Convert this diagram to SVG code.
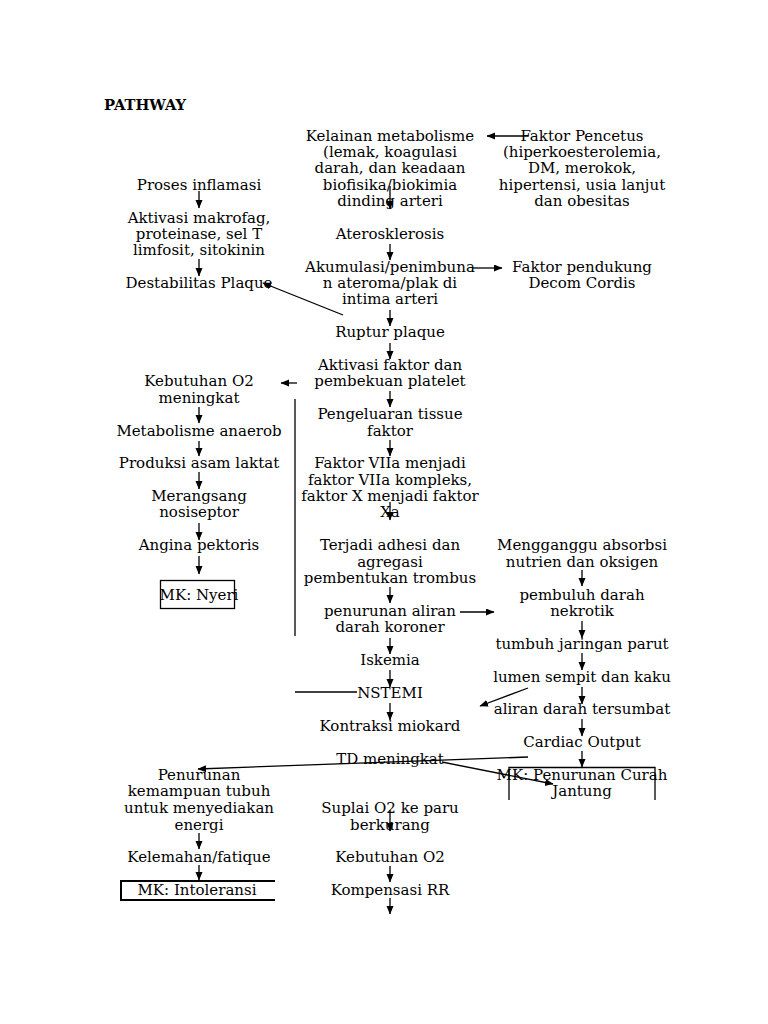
<svg xmlns="http://www.w3.org/2000/svg" width="768" height="1024" viewBox="0 0 768 1024">
<style>
text{font-family:"DejaVu Serif","Liberation Serif",serif;font-size:15px;fill:#000;text-anchor:middle}
.title{font-weight:bold;text-anchor:start;font-size:14.7px}
.c line,.c path,.c polyline{stroke:#000;stroke-width:1.3;fill:none}
.a{marker-end:url(#ah)}
.box{fill:none;stroke:#000;stroke-width:1.3}
.thick{stroke:#000;stroke-width:2;fill:none}
</style>
<defs>
<marker id="ah" markerUnits="userSpaceOnUse" markerWidth="9" markerHeight="8" refX="8" refY="3.5" orient="auto">
<path d="M0,0 L8.5,3.5 L0,7 z" fill="#000"/>
</marker>
</defs>
<rect width="768" height="1024" fill="#fff"/>
<text class="title" x="104" y="110">PATHWAY</text>

<g id="n-kelainan"><text x="390" y="141">Kelainan metabolisme</text><text x="390" y="157">(lemak, koagulasi</text><text x="390" y="173">darah, dan keadaan</text><text x="390" y="190">biofisika/biokimia</text><text x="390" y="206">dinding arteri</text></g>
<g id="n-pencetus"><text x="582" y="141">Faktor Pencetus</text><text x="582" y="157">(hiperkoesterolemia,</text><text x="582" y="173">DM, merokok,</text><text x="582" y="190">hipertensi, usia lanjut</text><text x="582" y="206">dan obesitas</text></g>
<g id="n-inflamasi"><text x="199" y="190">Proses inflamasi</text></g>
<g id="n-makrofag"><text x="199" y="223">Aktivasi makrofag,</text><text x="199" y="239">proteinase, sel T</text><text x="199" y="255">limfosit, sitokinin</text></g>
<g id="n-destab"><text x="199" y="288">Destabilitas Plaque</text></g>
<g id="n-ateros"><text x="390" y="239">Aterosklerosis</text></g>
<g id="n-akumulasi"><text x="390" y="272">Akumulasi/penimbuna</text><text x="390" y="288">n ateroma/plak di</text><text x="390" y="304">intima arteri</text></g>
<g id="n-pendukung"><text x="582" y="272">Faktor pendukung</text><text x="582" y="288">Decom Cordis</text></g>
<g id="n-ruptur"><text x="390" y="337">Ruptur plaque</text></g>
<g id="n-aktivasi"><text x="390" y="370">Aktivasi faktor dan</text><text x="390" y="386">pembekuan platelet</text></g>
<g id="n-kebutuhan1"><text x="199" y="386">Kebutuhan O2</text><text x="199" y="403">meningkat</text></g>
<g id="n-pengeluaran"><text x="390" y="419">Pengeluaran tissue</text><text x="390" y="436">faktor</text></g>
<g id="n-metab"><text x="199" y="436">Metabolisme anaerob</text></g>
<g id="n-faktor7"><text x="390" y="468">Faktor VIIa menjadi</text><text x="390" y="485">faktor VIIa kompleks,</text><text x="390" y="501">faktor X menjadi faktor</text><text x="390" y="517">Xa</text></g>
<g id="n-laktat"><text x="199" y="468">Produksi asam laktat</text></g>
<g id="n-nosiseptor"><text x="199" y="501">Merangsang</text><text x="199" y="517">nosiseptor</text></g>
<g id="n-angina"><text x="199" y="550">Angina pektoris</text></g>
<g id="n-nyeri"><rect class="box" x="160.5" y="580.5" width="74" height="28"/><text x="199" y="600">MK: Nyeri</text></g>
<g id="n-trombus"><text x="390" y="550">Terjadi adhesi dan</text><text x="390" y="567">agregasi</text><text x="390" y="583">pembentukan trombus</text></g>
<g id="n-absorbsi"><text x="582" y="550">Mengganggu absorbsi</text><text x="582" y="567">nutrien dan oksigen</text></g>
<g id="n-penurunan"><text x="390" y="616">penurunan aliran</text><text x="390" y="632">darah koroner</text></g>
<g id="n-nekrotik"><text x="582" y="600">pembuluh darah</text><text x="582" y="616">nekrotik</text></g>
<g id="n-parut"><text x="582" y="649">tumbuh jaringan parut</text></g>
<g id="n-iskemia"><text x="390" y="665">Iskemia</text></g>
<g id="n-lumen"><text x="582" y="682">lumen sempit dan kaku</text></g>
<g id="n-nstemi"><text x="390" y="698">NSTEMI</text></g>
<g id="n-tersumbat"><text x="582" y="714">aliran darah tersumbat</text></g>
<g id="n-kontraksi"><text x="390" y="731">Kontraksi miokard</text></g>
<g id="n-cardiac"><text x="582" y="747">Cardiac Output</text></g>
<g id="n-td"><text x="390" y="764">TD meningkat</text></g>
<g id="n-curah"><polyline class="box" points="509,800 509,767.5 655,767.5 655,800"/><text x="582" y="780">MK: Penurunan Curah</text><text x="582" y="796">Jantung</text></g>
<g id="n-energi"><text x="199" y="780">Penurunan</text><text x="199" y="796">kemampuan tubuh</text><text x="199" y="813">untuk menyediakan</text><text x="199" y="830">energi</text></g>
<g id="n-suplai"><text x="390" y="813">Suplai O2 ke paru</text><text x="390" y="830">berkurang</text></g>
<g id="n-kelemahan"><text x="199" y="862">Kelemahan/fatique</text></g>
<g id="n-kebutuhan2"><text x="390" y="862">Kebutuhan O2</text></g>
<g id="n-intoleransi"><polyline class="thick" points="275,881 121,881 121,900 275,900"/><text x="197" y="895">MK: Intoleransi</text></g>
<g id="n-kompensasi"><text x="390" y="895">Kompensasi RR</text></g>

<g id="connectors" class="c">
<line class="a" x1="528" y1="136" x2="487" y2="136"/>
<line class="a" x1="390" y1="186" x2="390" y2="209"/>
<line class="a" x1="390" y1="244" x2="390" y2="260"/>
<line class="a" x1="472" y1="268" x2="502" y2="268"/>
<line class="a" x1="390" y1="310" x2="390" y2="326"/>
<line class="a" x1="343" y1="315" x2="263" y2="283"/>
<line class="a" x1="390" y1="343" x2="390" y2="359"/>
<line class="a" x1="390" y1="391" x2="390" y2="407"/>
<line class="a" x1="390" y1="440" x2="390" y2="456"/>
<line class="a" x1="390" y1="502" x2="390" y2="520"/>
<line class="a" x1="390" y1="587" x2="390" y2="603"/>
<line class="a" x1="460" y1="612" x2="494" y2="612"/>
<line class="a" x1="390" y1="638" x2="390" y2="654"/>
<line class="a" x1="390" y1="670" x2="390" y2="687"/>
<line class="a" x1="390" y1="703" x2="390" y2="720"/>
<line x1="295" y1="692" x2="357" y2="692"/>
<line x1="295" y1="399" x2="295" y2="636"/>
<line class="a" x1="297" y1="383" x2="281" y2="383"/>
<line class="a" x1="199" y1="191" x2="199" y2="208"/>
<line class="a" x1="199" y1="259" x2="199" y2="276"/>
<line class="a" x1="199" y1="407" x2="199" y2="423"/>
<line class="a" x1="199" y1="441" x2="199" y2="456"/>
<line class="a" x1="199" y1="472" x2="199" y2="489"/>
<line class="a" x1="199" y1="523" x2="199" y2="540"/>
<line class="a" x1="199" y1="556" x2="199" y2="574"/>
<line class="a" x1="582" y1="570" x2="582" y2="586"/>
<line class="a" x1="582" y1="621" x2="582" y2="638"/>
<line class="a" x1="582" y1="653" x2="582" y2="670"/>
<line class="a" x1="582" y1="687" x2="582" y2="704"/>
<line class="a" x1="528" y1="688" x2="480" y2="706"/>
<line class="a" x1="582" y1="719" x2="582" y2="736"/>
<line class="a" x1="582" y1="751" x2="582" y2="767"/>
<line class="a" x1="528" y1="757" x2="198" y2="769"/>
<line class="a" x1="442" y1="762" x2="553" y2="784"/>
<line class="a" x1="390" y1="810" x2="390" y2="831"/>
<line class="a" x1="390" y1="866" x2="390" y2="882"/>
<line class="a" x1="390" y1="898" x2="390" y2="914"/>
<line class="a" x1="199" y1="833" x2="199" y2="849"/>
<line class="a" x1="199" y1="865" x2="199" y2="880"/>
</g>
</svg>
